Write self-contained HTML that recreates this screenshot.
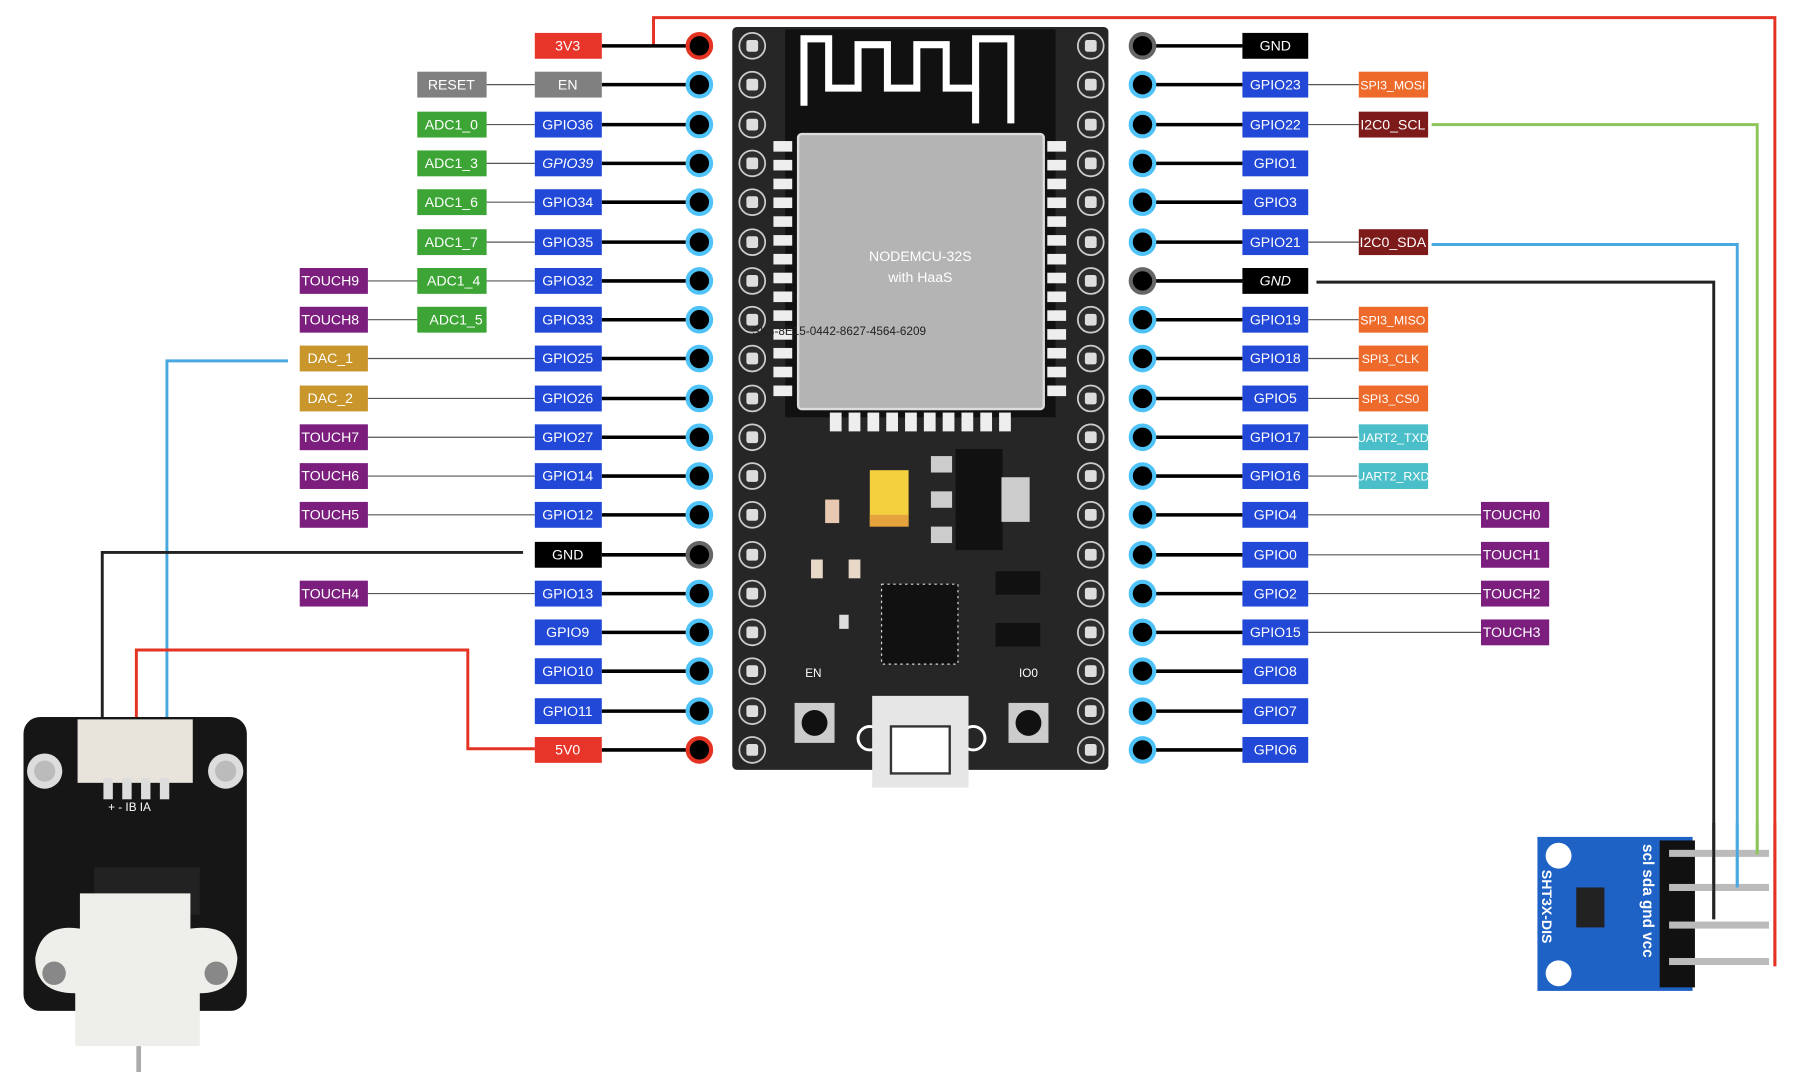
<!DOCTYPE html>
<html><head><meta charset="utf-8"><style>
html,body{margin:0;padding:0;background:#fff;width:1816px;height:1072px;overflow:hidden}
svg text{font-family:"Liberation Sans",sans-serif}
</style></head><body>
<svg width="1816" height="1072" viewBox="0 0 1545 912" preserveAspectRatio="none" xmlns="http://www.w3.org/2000/svg">
<g font-size="12" fill="#fff" text-anchor="middle">
<!-- wires -->
<g fill="none" stroke-width="2.5">
<polyline points="556,39 556,15 1510,15 1510,822" stroke="#e53323"/>
<polyline points="1218,106 1495,106 1495,727" stroke="#8dc55a"/>
<polyline points="1218,208 1478,208 1478,755" stroke="#4aa8e0"/>
<polyline points="1120,240 1458,240 1458,782" stroke="#222"/>
<polyline points="245,307 142,307 142,615" stroke="#4aa8e0"/>
<polyline points="445,470 87,470 87,615" stroke="#222"/>
<polyline points="455,637 398,637 398,553 116,553 116,615" stroke="#e53323"/>
</g>
<!-- thin label connectors -->
<g stroke="#555" stroke-width="1">
<line x1="414" y1="72" x2="455" y2="72"/><line x1="414" y1="106" x2="455" y2="106"/><line x1="414" y1="139" x2="455" y2="139"/><line x1="414" y1="172" x2="455" y2="172"/><line x1="414" y1="206" x2="455" y2="206"/>
<line x1="313" y1="239" x2="455" y2="239"/><line x1="313" y1="272" x2="355" y2="272"/>
<line x1="313" y1="305" x2="455" y2="305"/><line x1="313" y1="339" x2="455" y2="339"/><line x1="313" y1="372" x2="455" y2="372"/><line x1="313" y1="405" x2="455" y2="405"/><line x1="313" y1="438" x2="455" y2="438"/><line x1="313" y1="505" x2="455" y2="505"/>
<line x1="1113" y1="72" x2="1156" y2="72"/><line x1="1113" y1="106" x2="1156" y2="106"/><line x1="1113" y1="206" x2="1156" y2="206"/><line x1="1113" y1="272" x2="1156" y2="272"/><line x1="1113" y1="305" x2="1156" y2="305"/><line x1="1113" y1="339" x2="1156" y2="339"/><line x1="1113" y1="372" x2="1156" y2="372"/><line x1="1113" y1="405" x2="1156" y2="405"/>
<line x1="1113" y1="438" x2="1260" y2="438"/><line x1="1113" y1="472" x2="1260" y2="472"/><line x1="1113" y1="505" x2="1260" y2="505"/><line x1="1113" y1="538" x2="1260" y2="538"/>
</g>
<!-- thick pin lines -->
<g stroke="#000" stroke-width="3">
<line x1="512" y1="39" x2="585" y2="39"/><line x1="512" y1="72" x2="585" y2="72"/><line x1="512" y1="106" x2="585" y2="106"/><line x1="512" y1="139" x2="585" y2="139"/><line x1="512" y1="172" x2="585" y2="172"/><line x1="512" y1="206" x2="585" y2="206"/><line x1="512" y1="239" x2="585" y2="239"/><line x1="512" y1="272" x2="585" y2="272"/><line x1="512" y1="305" x2="585" y2="305"/><line x1="512" y1="339" x2="585" y2="339"/><line x1="512" y1="372" x2="585" y2="372"/><line x1="512" y1="405" x2="585" y2="405"/><line x1="512" y1="438" x2="585" y2="438"/><line x1="512" y1="472" x2="585" y2="472"/><line x1="512" y1="505" x2="585" y2="505"/><line x1="512" y1="538" x2="585" y2="538"/><line x1="512" y1="571" x2="585" y2="571"/><line x1="512" y1="605" x2="585" y2="605"/><line x1="512" y1="638" x2="585" y2="638"/>
<line x1="982" y1="39" x2="1057" y2="39"/><line x1="982" y1="72" x2="1057" y2="72"/><line x1="982" y1="106" x2="1057" y2="106"/><line x1="982" y1="139" x2="1057" y2="139"/><line x1="982" y1="172" x2="1057" y2="172"/><line x1="982" y1="206" x2="1057" y2="206"/><line x1="982" y1="239" x2="1057" y2="239"/><line x1="982" y1="272" x2="1057" y2="272"/><line x1="982" y1="305" x2="1057" y2="305"/><line x1="982" y1="339" x2="1057" y2="339"/><line x1="982" y1="372" x2="1057" y2="372"/><line x1="982" y1="405" x2="1057" y2="405"/><line x1="982" y1="438" x2="1057" y2="438"/><line x1="982" y1="472" x2="1057" y2="472"/><line x1="982" y1="505" x2="1057" y2="505"/><line x1="982" y1="538" x2="1057" y2="538"/><line x1="982" y1="571" x2="1057" y2="571"/><line x1="982" y1="605" x2="1057" y2="605"/><line x1="982" y1="638" x2="1057" y2="638"/>
</g>
<!-- pin circles -->
<g fill="#000" stroke-width="3.5" stroke="#4fc3f7">
<circle cx="595" cy="39" r="10" stroke="#e53323"/><circle cx="595" cy="72" r="10"/><circle cx="595" cy="106" r="10"/><circle cx="595" cy="139" r="10"/><circle cx="595" cy="172" r="10"/><circle cx="595" cy="206" r="10"/><circle cx="595" cy="239" r="10"/><circle cx="595" cy="272" r="10"/><circle cx="595" cy="305" r="10"/><circle cx="595" cy="339" r="10"/><circle cx="595" cy="372" r="10"/><circle cx="595" cy="405" r="10"/><circle cx="595" cy="438" r="10"/><circle cx="595" cy="472" r="10" stroke="#666"/><circle cx="595" cy="505" r="10"/><circle cx="595" cy="538" r="10"/><circle cx="595" cy="571" r="10"/><circle cx="595" cy="605" r="10"/><circle cx="595" cy="638" r="10" stroke="#e53323"/>
<circle cx="972" cy="39" r="10" stroke="#666"/><circle cx="972" cy="72" r="10"/><circle cx="972" cy="106" r="10"/><circle cx="972" cy="139" r="10"/><circle cx="972" cy="172" r="10"/><circle cx="972" cy="206" r="10"/><circle cx="972" cy="239" r="10" stroke="#666"/><circle cx="972" cy="272" r="10"/><circle cx="972" cy="305" r="10"/><circle cx="972" cy="339" r="10"/><circle cx="972" cy="372" r="10"/><circle cx="972" cy="405" r="10"/><circle cx="972" cy="438" r="10"/><circle cx="972" cy="472" r="10"/><circle cx="972" cy="505" r="10"/><circle cx="972" cy="538" r="10"/><circle cx="972" cy="571" r="10"/><circle cx="972" cy="605" r="10"/><circle cx="972" cy="638" r="10"/>
</g>
<!-- left main labels -->
<rect x="455" y="28" width="57" height="22" fill="#e8352a"/><text x="483" y="43">3V3</text>
<rect x="455" y="61" width="57" height="22" fill="#808080"/><text x="483" y="76">EN</text>
<rect x="455" y="95" width="57" height="22" fill="#2148d6"/><text x="483" y="110">GPIO36</text>
<rect x="455" y="128" width="57" height="22" fill="#2148d6"/><text x="483" y="143" font-style="italic">GPIO39</text>
<rect x="455" y="161" width="57" height="22" fill="#2148d6"/><text x="483" y="176">GPIO34</text>
<rect x="455" y="195" width="57" height="22" fill="#2148d6"/><text x="483" y="210">GPIO35</text>
<rect x="455" y="228" width="57" height="22" fill="#2148d6"/><text x="483" y="243">GPIO32</text>
<rect x="455" y="261" width="57" height="22" fill="#2148d6"/><text x="483" y="276">GPIO33</text>
<rect x="455" y="294" width="57" height="22" fill="#2148d6"/><text x="483" y="309">GPIO25</text>
<rect x="455" y="328" width="57" height="22" fill="#2148d6"/><text x="483" y="343">GPIO26</text>
<rect x="455" y="361" width="57" height="22" fill="#2148d6"/><text x="483" y="376">GPIO27</text>
<rect x="455" y="394" width="57" height="22" fill="#2148d6"/><text x="483" y="409">GPIO14</text>
<rect x="455" y="427" width="57" height="22" fill="#2148d6"/><text x="483" y="442">GPIO12</text>
<rect x="455" y="461" width="57" height="22" fill="#000"/><text x="483" y="476">GND</text>
<rect x="455" y="494" width="57" height="22" fill="#2148d6"/><text x="483" y="509">GPIO13</text>
<rect x="455" y="527" width="57" height="22" fill="#2148d6"/><text x="483" y="542">GPIO9</text>
<rect x="455" y="560" width="57" height="22" fill="#2148d6"/><text x="483" y="575">GPIO10</text>
<rect x="455" y="594" width="57" height="22" fill="#2148d6"/><text x="483" y="609">GPIO11</text>
<rect x="455" y="627" width="57" height="22" fill="#e8352a"/><text x="483" y="642">5V0</text>
<!-- left col2 -->
<rect x="355" y="61" width="59" height="22" fill="#808080"/><text x="384" y="76">RESET</text>
<rect x="355" y="95" width="59" height="22" fill="#3da535"/><text x="384" y="110">ADC1_0</text>
<rect x="355" y="128" width="59" height="22" fill="#3da535"/><text x="384" y="143">ADC1_3</text>
<rect x="355" y="161" width="59" height="22" fill="#3da535"/><text x="384" y="176">ADC1_6</text>
<rect x="355" y="195" width="59" height="22" fill="#3da535"/><text x="384" y="210">ADC1_7</text>
<rect x="355" y="228" width="59" height="22" fill="#3da535"/><text x="386" y="243">ADC1_4</text>
<rect x="355" y="261" width="59" height="22" fill="#3da535"/><text x="388" y="276">ADC1_5</text>
<!-- left col3 -->
<rect x="255" y="228" width="58" height="22" fill="#7b1e7e"/><text x="281" y="243">TOUCH9</text>
<rect x="255" y="261" width="58" height="22" fill="#7b1e7e"/><text x="281" y="276">TOUCH8</text>
<rect x="255" y="294" width="58" height="22" fill="#c9962b"/><text x="281" y="309">DAC_1</text>
<rect x="255" y="328" width="58" height="22" fill="#c9962b"/><text x="281" y="343">DAC_2</text>
<rect x="255" y="361" width="58" height="22" fill="#7b1e7e"/><text x="281" y="376">TOUCH7</text>
<rect x="255" y="394" width="58" height="22" fill="#7b1e7e"/><text x="281" y="409">TOUCH6</text>
<rect x="255" y="427" width="58" height="22" fill="#7b1e7e"/><text x="281" y="442">TOUCH5</text>
<rect x="255" y="494" width="58" height="22" fill="#7b1e7e"/><text x="281" y="509">TOUCH4</text>
<!-- right main -->
<rect x="1057" y="28" width="56" height="22" fill="#000"/><text x="1085" y="43">GND</text>
<rect x="1057" y="61" width="56" height="22" fill="#2148d6"/><text x="1085" y="76">GPIO23</text>
<rect x="1057" y="95" width="56" height="22" fill="#2148d6"/><text x="1085" y="110">GPIO22</text>
<rect x="1057" y="128" width="56" height="22" fill="#2148d6"/><text x="1085" y="143">GPIO1</text>
<rect x="1057" y="161" width="56" height="22" fill="#2148d6"/><text x="1085" y="176">GPIO3</text>
<rect x="1057" y="195" width="56" height="22" fill="#2148d6"/><text x="1085" y="210">GPIO21</text>
<rect x="1057" y="228" width="56" height="22" fill="#000"/><text x="1085" y="243" font-style="italic">GND</text>
<rect x="1057" y="261" width="56" height="22" fill="#2148d6"/><text x="1085" y="276">GPIO19</text>
<rect x="1057" y="294" width="56" height="22" fill="#2148d6"/><text x="1085" y="309">GPIO18</text>
<rect x="1057" y="328" width="56" height="22" fill="#2148d6"/><text x="1085" y="343">GPIO5</text>
<rect x="1057" y="361" width="56" height="22" fill="#2148d6"/><text x="1085" y="376">GPIO17</text>
<rect x="1057" y="394" width="56" height="22" fill="#2148d6"/><text x="1085" y="409">GPIO16</text>
<rect x="1057" y="427" width="56" height="22" fill="#2148d6"/><text x="1085" y="442">GPIO4</text>
<rect x="1057" y="461" width="56" height="22" fill="#2148d6"/><text x="1085" y="476">GPIO0</text>
<rect x="1057" y="494" width="56" height="22" fill="#2148d6"/><text x="1085" y="509">GPIO2</text>
<rect x="1057" y="527" width="56" height="22" fill="#2148d6"/><text x="1085" y="542">GPIO15</text>
<rect x="1057" y="560" width="56" height="22" fill="#2148d6"/><text x="1085" y="575">GPIO8</text>
<rect x="1057" y="594" width="56" height="22" fill="#2148d6"/><text x="1085" y="609">GPIO7</text>
<rect x="1057" y="627" width="56" height="22" fill="#2148d6"/><text x="1085" y="642">GPIO6</text>
<!-- right col2 -->
<g font-size="10.5">
<rect x="1156" y="61" width="59" height="22" fill="#ee6a2a"/><text x="1185" y="76">SPI3_MOSI</text>
<rect x="1156" y="95" width="59" height="22" fill="#7d1a1a"/><text x="1185" y="110" font-size="12">I2C0_SCL</text>
<rect x="1156" y="195" width="59" height="22" fill="#7d1a1a"/><text x="1185" y="210" font-size="12">I2C0_SDA</text>
<rect x="1156" y="261" width="59" height="22" fill="#ee6a2a"/><text x="1185" y="276">SPI3_MISO</text>
<rect x="1156" y="294" width="59" height="22" fill="#ee6a2a"/><text x="1183" y="309">SPI3_CLK</text>
<rect x="1156" y="328" width="59" height="22" fill="#ee6a2a"/><text x="1183" y="343">SPI3_CS0</text>
<rect x="1156" y="361" width="59" height="22" fill="#4bbfc9"/><text x="1185" y="376">UART2_TXD</text>
<rect x="1156" y="394" width="59" height="22" fill="#4bbfc9"/><text x="1185" y="409">UART2_RXD</text>
</g>
<rect x="1260" y="427" width="58" height="22" fill="#7b1e7e"/><text x="1286" y="442">TOUCH0</text>
<rect x="1260" y="461" width="58" height="22" fill="#7b1e7e"/><text x="1286" y="476">TOUCH1</text>
<rect x="1260" y="494" width="58" height="22" fill="#7b1e7e"/><text x="1286" y="509">TOUCH2</text>
<rect x="1260" y="527" width="58" height="22" fill="#7b1e7e"/><text x="1286" y="542">TOUCH3</text>
</g>
<!-- board -->
<rect x="623" y="23" width="320" height="632" rx="4" fill="#262626"/>
<g fill="#2e2e2e" stroke="#ccc" stroke-width="1.5">
<circle cx="640" cy="39" r="11"/><circle cx="640" cy="72" r="11"/><circle cx="640" cy="106" r="11"/><circle cx="640" cy="139" r="11"/><circle cx="640" cy="172" r="11"/><circle cx="640" cy="206" r="11"/><circle cx="640" cy="239" r="11"/><circle cx="640" cy="272" r="11"/><circle cx="640" cy="305" r="11"/><circle cx="640" cy="339" r="11"/><circle cx="640" cy="372" r="11"/><circle cx="640" cy="405" r="11"/><circle cx="640" cy="438" r="11"/><circle cx="640" cy="472" r="11"/><circle cx="640" cy="505" r="11"/><circle cx="640" cy="538" r="11"/><circle cx="640" cy="571" r="11"/><circle cx="640" cy="605" r="11"/><circle cx="640" cy="638" r="11"/>
<circle cx="928" cy="39" r="11"/><circle cx="928" cy="72" r="11"/><circle cx="928" cy="106" r="11"/><circle cx="928" cy="139" r="11"/><circle cx="928" cy="172" r="11"/><circle cx="928" cy="206" r="11"/><circle cx="928" cy="239" r="11"/><circle cx="928" cy="272" r="11"/><circle cx="928" cy="305" r="11"/><circle cx="928" cy="339" r="11"/><circle cx="928" cy="372" r="11"/><circle cx="928" cy="405" r="11"/><circle cx="928" cy="438" r="11"/><circle cx="928" cy="472" r="11"/><circle cx="928" cy="505" r="11"/><circle cx="928" cy="538" r="11"/><circle cx="928" cy="571" r="11"/><circle cx="928" cy="605" r="11"/><circle cx="928" cy="638" r="11"/>
</g>
<g fill="#ddd">
<rect x="635" y="34" width="10" height="10" rx="2"/><rect x="635" y="67" width="10" height="10" rx="2"/><rect x="635" y="101" width="10" height="10" rx="2"/><rect x="635" y="134" width="10" height="10" rx="2"/><rect x="635" y="167" width="10" height="10" rx="2"/><rect x="635" y="201" width="10" height="10" rx="2"/><rect x="635" y="234" width="10" height="10" rx="2"/><rect x="635" y="267" width="10" height="10" rx="2"/><rect x="635" y="300" width="10" height="10" rx="2"/><rect x="635" y="334" width="10" height="10" rx="2"/><rect x="635" y="367" width="10" height="10" rx="2"/><rect x="635" y="400" width="10" height="10" rx="2"/><rect x="635" y="433" width="10" height="10" rx="2"/><rect x="635" y="467" width="10" height="10" rx="2"/><rect x="635" y="500" width="10" height="10" rx="2"/><rect x="635" y="533" width="10" height="10" rx="2"/><rect x="635" y="566" width="10" height="10" rx="2"/><rect x="635" y="600" width="10" height="10" rx="2"/><rect x="635" y="633" width="10" height="10" rx="2"/>
<rect x="923" y="34" width="10" height="10" rx="2"/><rect x="923" y="67" width="10" height="10" rx="2"/><rect x="923" y="101" width="10" height="10" rx="2"/><rect x="923" y="134" width="10" height="10" rx="2"/><rect x="923" y="167" width="10" height="10" rx="2"/><rect x="923" y="201" width="10" height="10" rx="2"/><rect x="923" y="234" width="10" height="10" rx="2"/><rect x="923" y="267" width="10" height="10" rx="2"/><rect x="923" y="300" width="10" height="10" rx="2"/><rect x="923" y="334" width="10" height="10" rx="2"/><rect x="923" y="367" width="10" height="10" rx="2"/><rect x="923" y="400" width="10" height="10" rx="2"/><rect x="923" y="433" width="10" height="10" rx="2"/><rect x="923" y="467" width="10" height="10" rx="2"/><rect x="923" y="500" width="10" height="10" rx="2"/><rect x="923" y="533" width="10" height="10" rx="2"/><rect x="923" y="566" width="10" height="10" rx="2"/><rect x="923" y="600" width="10" height="10" rx="2"/><rect x="923" y="633" width="10" height="10" rx="2"/>
</g>
<!-- module -->
<rect x="668" y="25" width="230" height="330" fill="#111"/>
<polyline points="684,90 684,33 705,33 705,75 730,75 730,38 755,38 755,75 780,75 780,38 805,38 805,75 830,75 830,33 860,33 860,105" fill="none" stroke="#fff" stroke-width="6"/>
<line x1="830" y1="75" x2="830" y2="105" stroke="#fff" stroke-width="6"/>
<g fill="#eee">
<rect x="658" y="120" width="16" height="9"/><rect x="658" y="136" width="16" height="9"/><rect x="658" y="152" width="16" height="9"/><rect x="658" y="168" width="16" height="9"/><rect x="658" y="184" width="16" height="9"/><rect x="658" y="200" width="16" height="9"/><rect x="658" y="216" width="16" height="9"/><rect x="658" y="232" width="16" height="9"/><rect x="658" y="248" width="16" height="9"/><rect x="658" y="264" width="16" height="9"/><rect x="658" y="280" width="16" height="9"/><rect x="658" y="296" width="16" height="9"/><rect x="658" y="312" width="16" height="9"/><rect x="658" y="328" width="16" height="9"/>
<rect x="891" y="120" width="16" height="9"/><rect x="891" y="136" width="16" height="9"/><rect x="891" y="152" width="16" height="9"/><rect x="891" y="168" width="16" height="9"/><rect x="891" y="184" width="16" height="9"/><rect x="891" y="200" width="16" height="9"/><rect x="891" y="216" width="16" height="9"/><rect x="891" y="232" width="16" height="9"/><rect x="891" y="248" width="16" height="9"/><rect x="891" y="264" width="16" height="9"/><rect x="891" y="280" width="16" height="9"/><rect x="891" y="296" width="16" height="9"/><rect x="891" y="312" width="16" height="9"/><rect x="891" y="328" width="16" height="9"/>
<rect x="706" y="351" width="10" height="16"/><rect x="722" y="351" width="10" height="16"/><rect x="738" y="351" width="10" height="16"/><rect x="754" y="351" width="10" height="16"/><rect x="770" y="351" width="10" height="16"/><rect x="786" y="351" width="10" height="16"/><rect x="802" y="351" width="10" height="16"/><rect x="818" y="351" width="10" height="16"/><rect x="834" y="351" width="10" height="16"/><rect x="850" y="351" width="10" height="16"/>
</g>
<rect x="679" y="114" width="209" height="234" rx="3" fill="#b4b4b4" stroke="#ddd" stroke-width="2"/>
<text x="783" y="222" font-size="12" fill="#fff" text-anchor="middle">NODEMCU-32S</text>
<text x="783" y="240" font-size="12" fill="#fff" text-anchor="middle">with HaaS</text>
<text x="640" y="285" font-size="10" fill="#222">SK3-8E15-0442-8627-4564-6209</text>
<!-- small parts -->
<rect x="813" y="382" width="40" height="86" fill="#111"/>
<rect x="740" y="400" width="33" height="48" fill="#f4d03f"/><rect x="740" y="438" width="33" height="10" fill="#e6a23c"/>
<rect x="792" y="388" width="18" height="14" fill="#ccc"/><rect x="792" y="418" width="18" height="14" fill="#ccc"/><rect x="792" y="448" width="18" height="14" fill="#ccc"/>
<rect x="852" y="406" width="24" height="38" fill="#ccc"/>
<rect x="702" y="425" width="12" height="20" fill="#e8c8b0"/><rect x="690" y="476" width="10" height="16" fill="#e8d8c8"/><rect x="722" y="476" width="10" height="16" fill="#e8d8c8"/>
<rect x="847" y="486" width="38" height="20" fill="#111"/><rect x="847" y="530" width="38" height="20" fill="#111"/>
<rect x="750" y="497" width="65" height="68" fill="#111" stroke="#ddd" stroke-dasharray="2 3"/>
<rect x="714" y="523" width="8" height="12" fill="#ddd"/>
<text x="692" y="576" font-size="10" fill="#fff" text-anchor="middle">EN</text>
<text x="875" y="576" font-size="10" fill="#fff" text-anchor="middle">IO0</text>
<rect x="676" y="598" width="34" height="34" fill="#ccc"/><circle cx="693" cy="615" r="11" fill="#111"/>
<rect x="858" y="598" width="34" height="34" fill="#ccc"/><circle cx="875" cy="615" r="11" fill="#111"/>
<circle cx="740" cy="628" r="10" fill="#262626" stroke="#fff" stroke-width="2.5"/><circle cx="828" cy="628" r="10" fill="#262626" stroke="#fff" stroke-width="2.5"/>
<rect x="742" y="592" width="82" height="78" fill="#e6e6e6"/><rect x="758" y="618" width="50" height="40" fill="#fff" stroke="#333" stroke-width="2"/>
<!-- motor module -->
<rect x="20" y="610" width="190" height="250" rx="14" fill="#161616"/>
<rect x="66" y="612" width="98" height="54" fill="#e8e4dc"/>
<rect x="88" y="662" width="8" height="18" fill="#ddd"/><rect x="104" y="662" width="8" height="18" fill="#ddd"/><rect x="120" y="662" width="8" height="18" fill="#ddd"/><rect x="136" y="662" width="8" height="18" fill="#ddd"/>
<circle cx="38" cy="656" r="15" fill="#ddd"/><circle cx="38" cy="656" r="9" fill="#bbb"/>
<circle cx="192" cy="656" r="15" fill="#ddd"/><circle cx="192" cy="656" r="9" fill="#bbb"/>
<text x="92" y="690" font-size="10" fill="#fff">+ - IB IA</text>
<rect x="80" y="738" width="90" height="40" fill="#222"/>
<path d="M30 815 Q35 785 68 790 L68 760 L162 760 L162 790 Q198 785 202 815 Q200 845 170 845 L170 890 L64 890 L64 845 Q30 845 30 815Z" fill="#eeeeea"/>
<circle cx="46" cy="828" r="10" fill="#888"/><circle cx="184" cy="828" r="10" fill="#888"/>
<rect x="116" y="890" width="4" height="28" fill="#aaa"/>
<!-- SHT3x sensor -->
<rect x="1308" y="712" width="132" height="131" fill="#1f62c6"/>
<circle cx="1326" cy="728" r="11" fill="#fff"/><circle cx="1326" cy="828" r="11" fill="#fff"/>
<rect x="1341" y="755" width="24" height="34" fill="#222"/>
<text x="1398" y="718" font-size="13" fill="#fff" transform="rotate(90 1398 718)" font-weight="bold">scl sda gnd vcc</text>
<text x="1312" y="740" font-size="12" fill="#fff" transform="rotate(90 1312 740)" font-weight="bold">SHT3X-DIS</text>
<rect x="1412" y="715" width="30" height="125" fill="#111"/>
<g fill="#bbb"><rect x="1420" y="723" width="85" height="6"/><rect x="1420" y="752" width="85" height="6"/><rect x="1420" y="784" width="85" height="6"/><rect x="1420" y="815" width="85" height="6"/></g>
<line x1="1495" y1="700" x2="1495" y2="727" stroke="#8dc55a" stroke-width="2.5"/>
<line x1="1478" y1="700" x2="1478" y2="755" stroke="#4aa8e0" stroke-width="2.5"/>
<line x1="1458" y1="700" x2="1458" y2="782" stroke="#222" stroke-width="2.5"/>
<line x1="1510" y1="700" x2="1510" y2="822" stroke="#e53323" stroke-width="2.5"/>
</svg>
</body></html>
